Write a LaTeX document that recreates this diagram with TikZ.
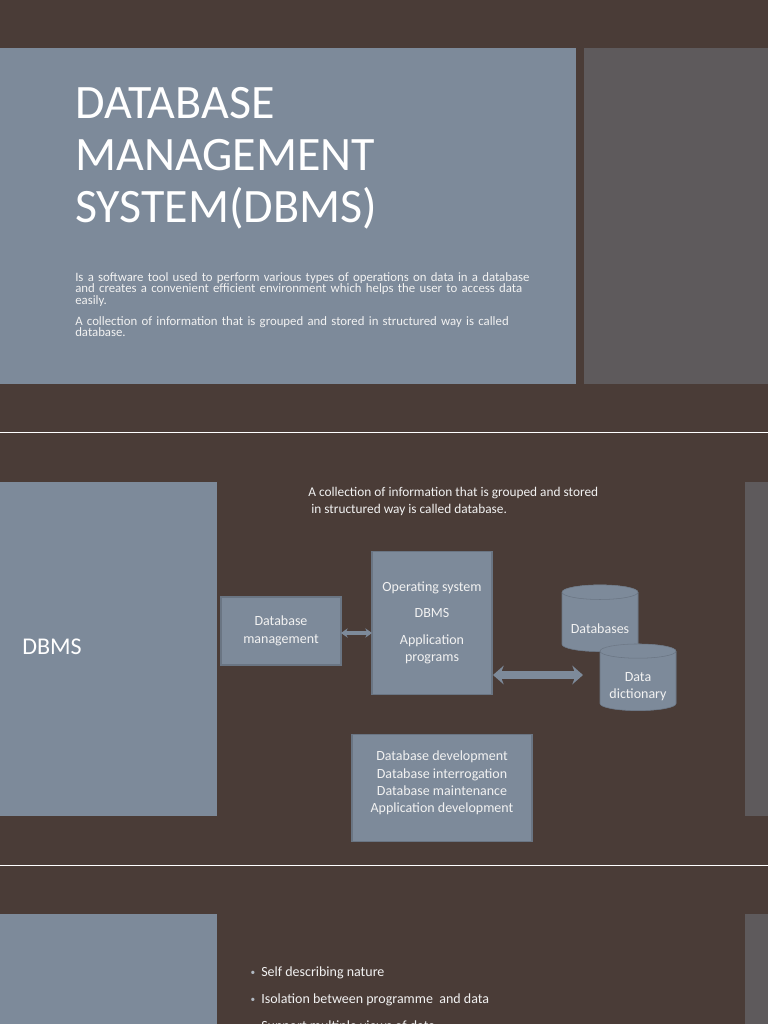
\documentclass[tikz,border=0pt]{standalone}
\usepackage{fontspec}
\setmainfont{Carlito}
\usetikzlibrary{shapes.geometric,arrows.meta}
\definecolor{bg}{HTML}{4A3C37}
\definecolor{pan}{HTML}{7D8A9A}
\definecolor{gpan}{HTML}{5E5A5C}
\definecolor{txt}{HTML}{F2F2F2}
\tikzset{
 box/.style={fill=pan,draw=pan!85!black,line width=0.8pt,text=txt,align=center,font=\fontsize{10.5}{13}\selectfont},
 cyl/.style={cylinder,shape border rotate=90,aspect=0.25,fill=pan,draw=pan!85!black,cylinder uses custom fill,cylinder end fill=pan!70!white,cylinder body fill=pan,minimum width=57pt,minimum height=50pt,text=txt,align=center,font=\fontsize{10.5}{13}\selectfont,inner sep=0pt},
 darr/.style={{Stealth[length=5pt,width=7pt]}-{Stealth[length=5pt,width=7pt]},draw=pan},
 para/.style={anchor=north west,text=txt,align=left,font=\fontsize{9.6}{8.6}\selectfont,inner sep=0pt,text width=356pt},
}
\begin{document}
\begin{tikzpicture}[x=0.75pt,y=-0.75pt]
\useasboundingbox (0,0) rectangle (768,1024);
\clip (0,0) rectangle (768,1024);
\fill[bg] (0,0) rectangle (768,1024);
% slide 1
\fill[pan] (0,48) rectangle (576,384);
\fill[gpan] (584,48) rectangle (768,384);
\node[anchor=north west,text=white,align=left,font=\fontsize{36}{39}\selectfont,inner sep=0pt] (title) at (75,87) {DATABASE\\MANAGEMENT\\SYSTEM(DBMS)};
\node[para] (p1) at (75,272) {Is a software tool used to perform various types of operations on data in a database\\and creates a convenient efficient environment which helps the user to access data\\easily.};
\node[para] (p2) at (75,316) {A collection of information that is grouped and stored in structured way is called\\database.};
\draw[white,line width=0.8pt] (0,432.5) -- (768,432.5);
% slide 2
\fill[pan] (0,482) rectangle (217,816);
\fill[gpan] (745,482) rectangle (768,816);
\node[anchor=west,text=white,font=\fontsize{18}{20}\selectfont,inner sep=0pt] (dbms) at (22,647) {DBMS};
\node[text=txt,align=left,font=\fontsize{10}{13}\selectfont,anchor=north west,inner sep=0pt] (cap) at (308,487) {A collection of information that is grouped and stored\\\ in structured way is called database.};
\node[box,minimum width=90pt,minimum height=51pt] (mgmt) at (281,631) {Database\\management};
\node[box,minimum width=90pt,minimum height=107pt] (os) at (432,623) {Operating system\\[7pt]DBMS\\[7pt]Application\\programs};
\node[box,minimum width=135pt,minimum height=80pt,anchor=north,inner sep=6pt] (dev) at (442,734) {\\[-17pt]Database development\\Database interrogation\\Database maintenance\\Application development};
\node[cyl] (dbs) at (600,622) {\\[4pt]Databases};
\node[cyl] (dd) at (638,681) {\\[2pt]Data\\dictionary};
\coordinate (a1) at (341,633); \coordinate (a2) at (372,633);
\draw[darr,line width=2.5pt] (a1) -- (a2);
\coordinate (b1) at (493,675); \coordinate (b2) at (583,675);
\draw[darr,line width=6pt,{Stealth[length=8pt,width=14pt]}-{Stealth[length=8pt,width=14pt]}] (b1) -- (b2);
\draw[white,line width=0.8pt] (0,865.5) -- (768,865.5);
% slide 3
\fill[pan] (0,914) rectangle (217,1024);
\fill[gpan] (745,914) rectangle (768,1024);
\foreach \y/\t [count=\i] in {973/Self describing nature,1000/Isolation between programme\ \ and data,1027/Support multiple views of data}{
 \node[text=pan!60!white,font=\fontsize{7}{8}\selectfont] (b\i) at (253,\y) {•};
 \node[anchor=west,text=txt,font=\fontsize{10.5}{12}\selectfont,inner sep=0pt] (t\i) at (261,\y) {\t};
}
\end{tikzpicture}
\end{document}
